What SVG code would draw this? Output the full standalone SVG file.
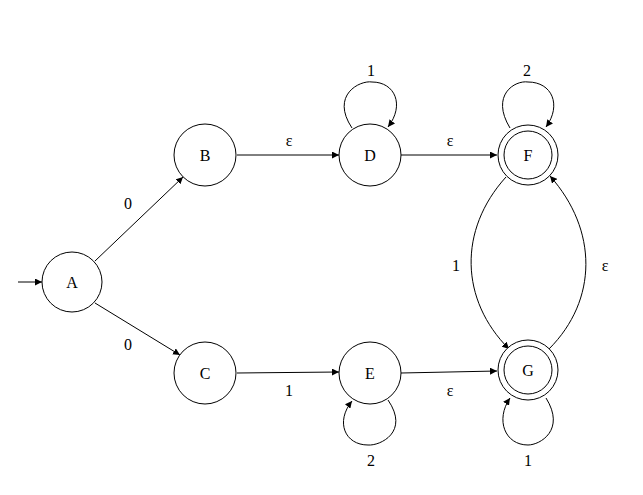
<svg xmlns="http://www.w3.org/2000/svg" width="643" height="495" viewBox="0 0 643 495">
<defs>
<marker id="ah" viewBox="0 0 10 10" refX="10" refY="5" markerWidth="7" markerHeight="7" orient="auto"><path d="M0,0 L10,5 L0,10 z" fill="#000"/></marker>
<style>
circle{fill:#fff;stroke:#000;stroke-width:1}
.e{fill:none;stroke:#000;stroke-width:1;marker-end:url(#ah)}
text{font-family:"Liberation Serif",serif;font-size:16px;text-anchor:middle;dominant-baseline:central}
</style>
</defs>
<rect width="643" height="495" fill="#fff"/>
<g id="connectors">
<path class="e" d="M18,282 L42,282"/>
<path class="e" d="M95,261 L183,177"/>
<path class="e" d="M95,303 L180,355"/>
<path class="e" d="M237,155 L339,155"/>
<path class="e" d="M401,155 L497,155"/>
<path class="e" d="M237,373 L339,372"/>
<path class="e" d="M401,373 L497,371"/>
<path class="e" d="M506,177 C458,230 460,300 509,349"/>
<path class="e" d="M549,349 C598,300 598,230 550,176"/>
<path class="e" d="M352,128 C330,95 360,80 372,82 C395,82 405,105 388,127"/>
<path class="e" d="M510,128 C490,95 515,80 528,82 C552,82 562,105 546,127"/>
<path class="e" d="M388,400 C410,432 380,446 368,445 C345,445 335,422 352,401"/>
<path class="e" d="M546,398 C566,430 540,445 528,445 C505,445 495,420 510,398"/>
<text x="128" y="203">0</text>
<text x="128" y="344">0</text>
<text x="289" y="140">ε</text>
<text x="450" y="140">ε</text>
<text x="289" y="390">1</text>
<text x="450" y="390">ε</text>
<text x="456" y="265">1</text>
<text x="605" y="265">ε</text>
<text x="371" y="70">1</text>
<text x="527" y="70">2</text>
<text x="371" y="460">2</text>
<text x="528" y="460">1</text>
</g>
<g id="A"><circle cx="72" cy="282" r="30"/><text x="72" y="282">A</text></g>
<g id="B"><circle cx="205" cy="155" r="31"/><text x="205" y="155">B</text></g>
<g id="C"><circle cx="205" cy="373" r="31"/><text x="205" y="373">C</text></g>
<g id="D"><circle cx="370" cy="155" r="31"/><text x="370" y="155">D</text></g>
<g id="E"><circle cx="370" cy="373" r="31"/><text x="370" y="373">E</text></g>
<g id="F"><circle cx="528" cy="155" r="30"/><circle cx="528" cy="155" r="24"/><text x="528" y="155">F</text></g>
<g id="G"><circle cx="528" cy="370" r="30"/><circle cx="528" cy="370" r="24"/><text x="528" y="370">G</text></g>
</svg>
